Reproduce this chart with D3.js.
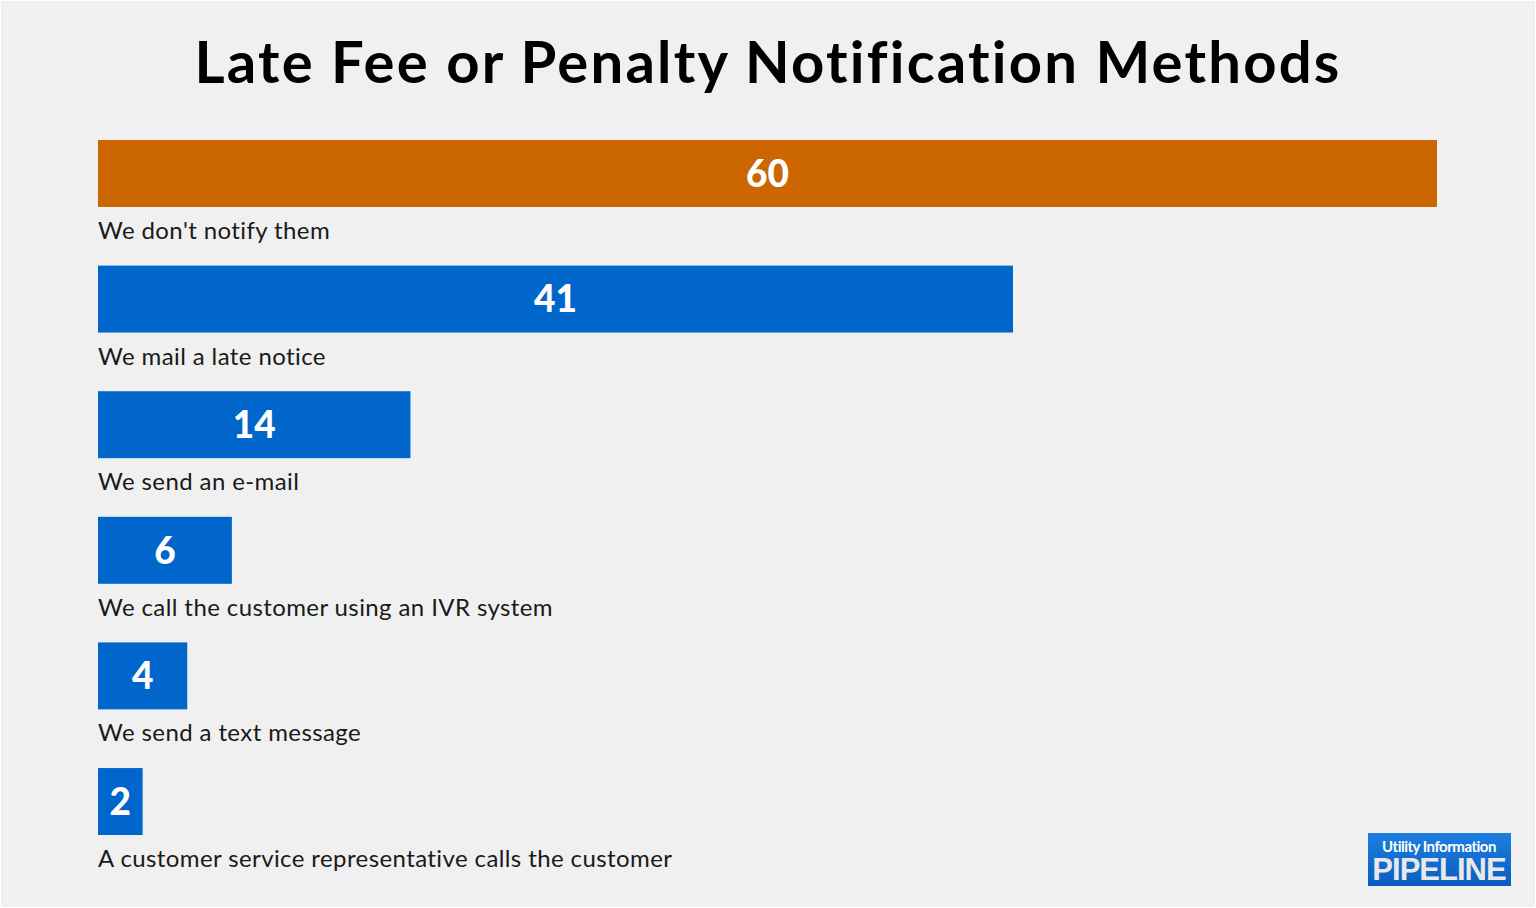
<!DOCTYPE html>
<meta charset="utf-8">
<style>
html, body {
    margin: 0;
    padding: 0;
    background: #fff;
}
svg {
    display: block;
}
text {
    font-variant-ligatures: none;
}
.label {
    font-family: Lato, "Open Sans", sans-serif;
    font-size: 24px;
    letter-spacing: 0.4px;
    fill: #1a1a1a;
}
.value {
    font-family: Lato, "Open Sans", sans-serif;
    font-weight: 900;
    font-size: 37px;
    fill: #fff;
}
</style>

<body>
    <div id="chart-container"></div>
    <script src="https://cdnjs.cloudflare.com/ajax/libs/d3/7.8.5/d3.min.js"></script>
    <script>
    // chart data
    var categories = [
        "We don't notify them",
        "We mail a late notice",
        "We send an e-mail",
        "We call the customer using an IVR system",
        "We send a text message",
        "A customer service representative calls the customer"
    ];
    var values = [60, 41, 14, 6, 4, 2];
    var highlight = [true, false, false, false, false, false];

    var width = 1536,
        height = 908;

    var svg = d3.select("#chart-container").append("svg")
        .attr("width", width)
        .attr("height", height);

    // background panel
    svg.append("rect")
        .attr("x", 1).attr("y", 1)
        .attr("width", width - 2).attr("height", height - 2)
        .attr("fill", "#f0f0f0");

    svg.append("text")
        .attr("x", 768)
        .attr("y", 83)
        .attr("text-anchor", "middle")
        .style("font-family", "Lato, 'Open Sans', sans-serif")
        .style("font-weight", "700")
        .style("font-size", "58px")
        .style("letter-spacing", "2.2px")
        .style("fill", "#000")
        .text("Late Fee or Penalty Notification Methods");

    // x runs from 0 at the left edge of the bars
    var x = d3.scaleLinear()
        .domain([0, 60])
        .range([98, 1437]);

    var y = d3.scaleBand()
        .domain(categories)
        .range([140, 835])
        .paddingInner(0.467)
        .paddingOuter(0);

    var rows = svg.selectAll(".row")
        .data(categories)
        .enter().append("g")
        .attr("class", "row");

    rows.append("rect")
        .attr("x", x(0))
        .attr("y", function(d) { return y(d); })
        .attr("width", function(d, i) { return x(values[i]) - x(0); })
        .attr("height", y.bandwidth())
        .attr("fill", function(d, i) { return highlight[i] ? "#cc6600" : "#0066cc"; });

    rows.append("text")
        .attr("class", "value")
        .attr("x", function(d, i) { return (x(0) + x(values[i])) / 2; })
        .attr("y", function(d) { return y(d) + y.bandwidth() / 2; })
        .attr("dy", "0.36em")
        .attr("text-anchor", "middle")
        .text(function(d, i) { return values[i]; });

    rows.append("text")
        .attr("class", "label")
        .attr("x", x(0))
        .attr("y", function(d) { return y(d) + y.bandwidth() + 32; })
        .text(function(d) { return d; });

    // logo box, bottom right
    var logo = svg.append("g").attr("transform", "translate(1368,833)");
    var grad = svg.append("defs").append("linearGradient")
        .attr("id", "logoGrad")
        .attr("x1", 0).attr("y1", 0).attr("x2", 0).attr("y2", 1);
    grad.append("stop").attr("offset", "0%").attr("stop-color", "#1e7fe0");
    grad.append("stop").attr("offset", "100%").attr("stop-color", "#0a5cc0");
    logo.append("rect")
        .attr("width", 143).attr("height", 53)
        .attr("fill", "url(#logoGrad)");
    logo.append("text")
        .attr("x", 71).attr("y", 19)
        .attr("text-anchor", "middle")
        .style("font-family", "Lato, sans-serif")
        .style("font-size", "15px")
        .style("font-weight", "700")
        .style("letter-spacing", "-0.5px")
        .style("fill", "#fff")
        .text("Utility Information");
    logo.append("text")
        .attr("x", 71).attr("y", 47)
        .attr("text-anchor", "middle")
        .style("font-family", "'Liberation Sans', sans-serif")
        .style("font-size", "31px")
        .style("font-weight", "700")
        .style("letter-spacing", "-1px")
        .style("fill", "#e8e8e8")
        .text("PIPELINE");
    </script>
</body>

</html>
